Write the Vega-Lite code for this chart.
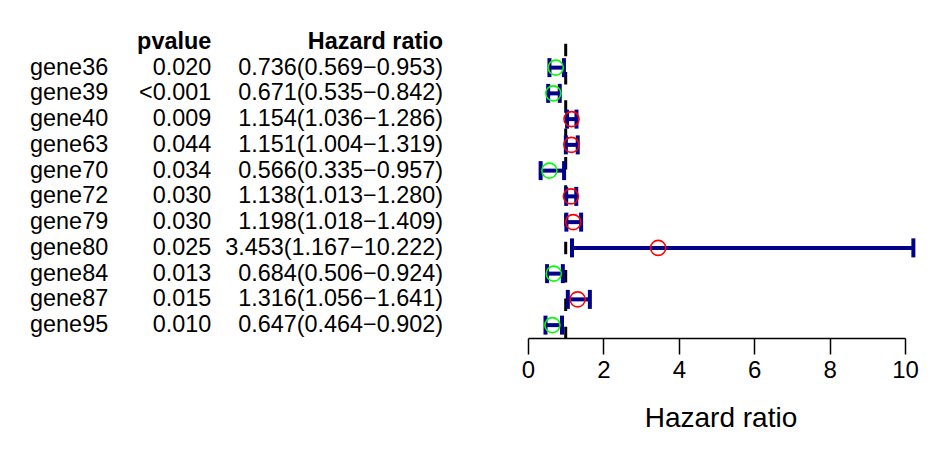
{
  "$schema": "https://vega.github.io/schema/vega-lite/v6.json",
  "background": "white",
  "padding": {"top": 27, "left": 0, "right": 0, "bottom": 0},
  "spacing": 0,
  "bounds": "flush",
  "config": {"view": {"stroke": null}, "font": "Liberation Sans", "concat": {"spacing": 0}},
  "datasets": {
    "cox": [
      {"gene": "gene36", "pvalue": "0.020", "hr": 0.736, "lower": 0.569, "upper": 0.953, "label": "0.736(0.569−0.953)"},
      {"gene": "gene39", "pvalue": "<0.001", "hr": 0.671, "lower": 0.535, "upper": 0.842, "label": "0.671(0.535−0.842)"},
      {"gene": "gene40", "pvalue": "0.009", "hr": 1.154, "lower": 1.036, "upper": 1.286, "label": "1.154(1.036−1.286)"},
      {"gene": "gene63", "pvalue": "0.044", "hr": 1.151, "lower": 1.004, "upper": 1.319, "label": "1.151(1.004−1.319)"},
      {"gene": "gene70", "pvalue": "0.034", "hr": 0.566, "lower": 0.335, "upper": 0.957, "label": "0.566(0.335−0.957)"},
      {"gene": "gene72", "pvalue": "0.030", "hr": 1.138, "lower": 1.013, "upper": 1.280, "label": "1.138(1.013−1.280)"},
      {"gene": "gene79", "pvalue": "0.030", "hr": 1.198, "lower": 1.018, "upper": 1.409, "label": "1.198(1.018−1.409)"},
      {"gene": "gene80", "pvalue": "0.025", "hr": 3.453, "lower": 1.167, "upper": 10.222, "label": "3.453(1.167−10.222)"},
      {"gene": "gene84", "pvalue": "0.013", "hr": 0.684, "lower": 0.506, "upper": 0.924, "label": "0.684(0.506−0.924)"},
      {"gene": "gene87", "pvalue": "0.015", "hr": 1.316, "lower": 1.056, "upper": 1.641, "label": "1.316(1.056−1.641)"},
      {"gene": "gene95", "pvalue": "0.010", "hr": 0.647, "lower": 0.464, "upper": 0.902, "label": "0.647(0.464−0.902)"}
    ]
  },
  "hconcat": [
    {
      "width": 528,
      "height": 309,
      "data": {"name": "cox"},
      "encoding": {
        "y": {
          "field": "gene",
          "type": "nominal",
          "sort": null,
          "axis": null,
          "scale": {"type": "band", "paddingInner": 0, "paddingOuter": 0,
            "domain": ["header", "gene36", "gene39", "gene40", "gene63", "gene70", "gene72", "gene79", "gene80", "gene84", "gene87", "gene95"]}
        }
      },
      "layer": [
        {
          "mark": {"type": "text", "align": "left", "baseline": "middle", "fontSize": 23.4, "color": "black"},
          "encoding": {
            "x": {"datum": 5.7, "type": "quantitative", "scale": {"domain": [0, 100], "nice": false, "zero": true}, "axis": null},
            "text": {"field": "gene"}
          }
        },
        {
          "mark": {"type": "text", "align": "right", "baseline": "middle", "fontSize": 23.4, "color": "black"},
          "encoding": {
            "x": {"datum": 40, "type": "quantitative"},
            "text": {"field": "pvalue"}
          }
        },
        {
          "mark": {"type": "text", "align": "right", "baseline": "middle", "fontSize": 23.4, "color": "black"},
          "encoding": {
            "x": {"datum": 83.9, "type": "quantitative"},
            "text": {"field": "label"}
          }
        },
        {
          "data": {"values": [{"heading": "pvalue"}]},
          "mark": {"type": "text", "align": "right", "baseline": "middle", "fontSize": 23.4, "fontWeight": "bold", "color": "black"},
          "encoding": {
            "x": {"datum": 40, "type": "quantitative"},
            "y": {"datum": "header", "type": "nominal"},
            "text": {"field": "heading"}
          }
        },
        {
          "data": {"values": [{"heading": "Hazard ratio"}]},
          "mark": {"type": "text", "align": "right", "baseline": "middle", "fontSize": 23.4, "fontWeight": "bold", "color": "black"},
          "encoding": {
            "x": {"datum": 83.9, "type": "quantitative"},
            "y": {"datum": "header", "type": "nominal"},
            "text": {"field": "heading"}
          }
        }
      ]
    },
    {
      "width": 377,
      "height": 309,
      "data": {"name": "cox"},
      "encoding": {
        "y": {
          "field": "gene",
          "type": "nominal",
          "sort": null,
          "axis": null,
          "scale": {"type": "band", "paddingInner": 0, "paddingOuter": 0,
            "domain": ["header", "gene36", "gene39", "gene40", "gene63", "gene70", "gene72", "gene79", "gene80", "gene84", "gene87", "gene95"]}
        }
      },
      "layer": [
        {
          "data": {"values": [{"ref": 1}]},
          "mark": {"type": "rule", "color": "black", "strokeWidth": 3, "strokeDash": [12.5, 15.8], "strokeDashOffset": 13.6},
          "encoding": {
            "x": {"field": "ref", "type": "quantitative"},
            "y": null
          }
        },
        {
          "mark": {"type": "rule", "color": "#00008B", "strokeWidth": 4},
          "encoding": {
            "x": {
              "field": "lower",
              "type": "quantitative",
              "scale": {"domain": [0, 10], "nice": false, "zero": true},
              "axis": {
                "values": [0, 2, 4, 6, 8, 10],
                "title": "Hazard ratio",
                "titleX": 192.5,
                "grid": false,
                "domainColor": "black",
                "domainWidth": 1.5,
                "tickColor": "black",
                "tickWidth": 1.5,
                "tickSize": 16,
                "labelFontSize": 24,
                "labelColor": "black",
                "labelPadding": 4,
                "labelFlush": false,
                "titleFontSize": 28,
                "titleFontWeight": "normal",
                "titleColor": "black",
                "titlePadding": 22
              }
            },
            "x2": {"field": "upper"}
          }
        },
        {
          "mark": {"type": "tick", "color": "#00008B", "size": 19, "thickness": 4, "opacity": 1},
          "encoding": {"x": {"field": "lower", "type": "quantitative"}}
        },
        {
          "mark": {"type": "tick", "color": "#00008B", "size": 19, "thickness": 4, "opacity": 1},
          "encoding": {"x": {"field": "upper", "type": "quantitative"}}
        },
        {
          "mark": {"type": "point", "shape": "circle", "filled": false, "size": 227, "strokeWidth": 1.6, "opacity": 1},
          "encoding": {
            "x": {"field": "hr", "type": "quantitative"},
            "stroke": {"condition": {"test": "datum.hr > 1", "value": "#FF0000"}, "value": "#00FF00"}
          }
        }
      ]
    }
  ]
}
